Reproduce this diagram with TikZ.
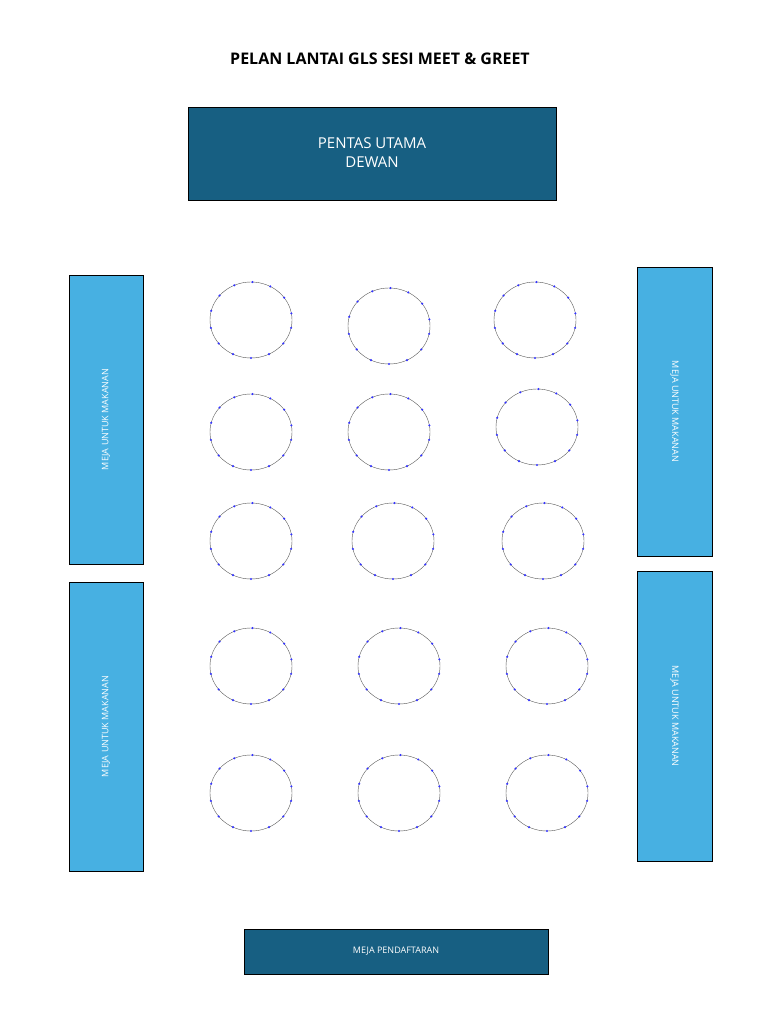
\documentclass[tikz,border=0pt]{standalone}
\usepackage{fontspec}
\setmainfont{Open Sans}
\definecolor{stageblue}{HTML}{175F82}
\definecolor{foodblue}{HTML}{47B0E2}
\tikzset{
  darkbox/.style={draw=black, fill=stageblue, text=white, line width=0.6pt},
  foodbox/.style={draw=black, fill=foodblue, text=white, line width=0.6pt, font=\fontsize{9}{10}\selectfont},
  seat/.style={fill=blue!80, draw=none},
}
\begin{document}
\begin{tikzpicture}[x=1pt, y=-1pt]
\useasboundingbox (0,0) rectangle (768,1024);
% title
\node (title) at (380,59) {\fontsize{16}{18}\selectfont\bfseries PELAN LANTAI GLS SESI MEET \& GREET};
% stage
\draw[darkbox] (188,107) rectangle (556,200);
\node[text=white, align=center, font=\fontsize{15}{19}\selectfont] (stage) at (372,153) {PENTAS UTAMA\\DEWAN};
% food tables
\draw[foodbox] (69,275) rectangle (143,564) node[midway, rotate=90] (foodA) {MEJA UNTUK MAKANAN};
\draw[foodbox] (69,582) rectangle (143,871) node[midway, rotate=90] (foodB) {MEJA UNTUK MAKANAN};
\draw[foodbox] (637,267) rectangle (712,556) node[midway, rotate=-90] (foodC) {MEJA UNTUK MAKANAN};
\draw[foodbox] (637,571) rectangle (712,861) node[midway, rotate=-90] (foodD) {MEJA UNTUK MAKANAN};
% registration
\draw[darkbox] (244,929) rectangle (548,974) node[midway, font=\fontsize{9}{10}\selectfont] (reg) {MEJA PENDAFTARAN};
% round tables
\foreach \cx/\cy in {251/320, 389/326, 535/320, 251/432, 389/432, 537/427,
                     251/541, 393/541, 543/541, 251/666, 399/666, 547/666,
                     251/793, 399/793, 547/793} {
  \draw[gray!70!black, line width=0.4pt] (\cx,\cy) ellipse (41 and 38);
  \foreach \a in {0,26,...,350}
    \fill[seat] ({\cx+41*cos(\a+12)},{\cy+38*sin(\a+12)}) circle (1.2);
}
\end{tikzpicture}
\end{document}
